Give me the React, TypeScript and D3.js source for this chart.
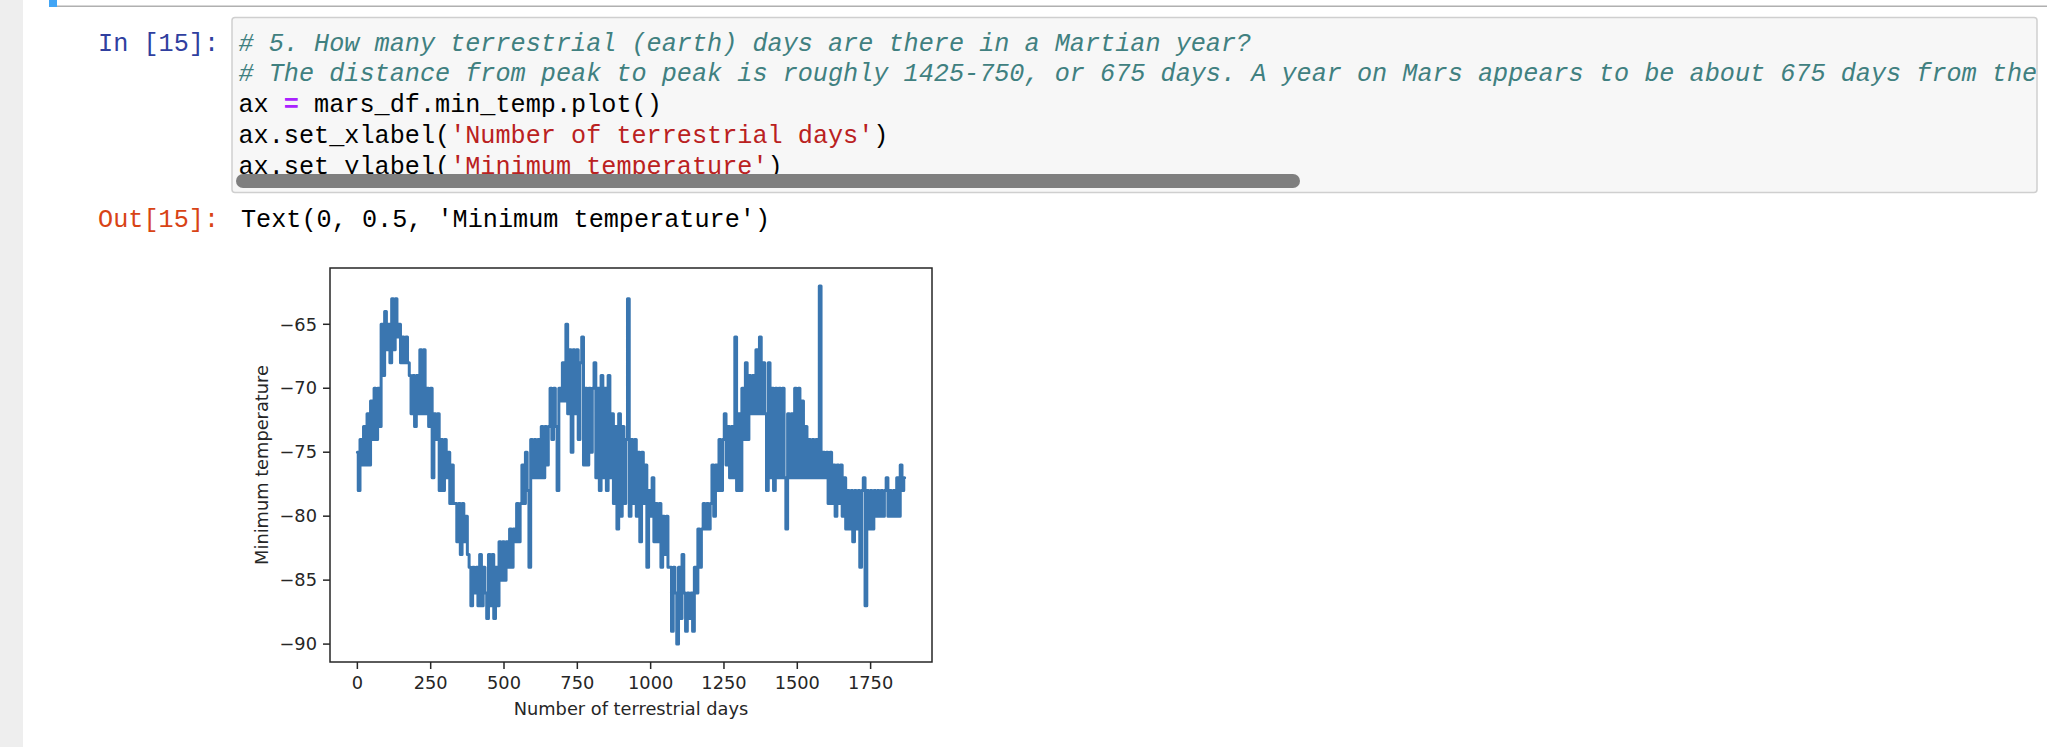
import React from "react";
import * as d3 from "d3";

// ---- data (one value per 6 terrestrial days) ----
const DAY_STEP = 6;
const minTemp: number[] = [
  -75, -78, -74, -76, -73, -76, -72, -76, -71, -74,
  -70, -74, -70, -73, -65, -69, -64, -67, -65, -68,
  -63, -67, -63, -66, -65, -68, -66, -68, -66, -68,
  -69, -72, -69, -73, -69, -72, -67, -72, -67, -72,
  -70, -73, -70, -77, -72, -74, -72, -78, -74, -78,
  -74, -77, -75, -79, -76, -79, -79, -82, -79, -83,
  -79, -82, -80, -83, -84, -87, -84, -86, -84, -87,
  -83, -87, -84, -86, -88, -83, -87, -83, -88, -84,
  -87, -82, -85, -82, -85, -82, -84, -81, -84, -81,
  -82, -79, -82, -79, -76, -79, -75, -78, -84, -74,
  -77, -74, -77, -74, -77, -73, -77, -73, -76, -73,
  -70, -74, -70, -73, -78, -70, -71, -68, -71, -65,
  -72, -67, -75, -67, -72, -67, -74, -68, -66, -76,
  -70, -76, -70, -75, -70, -68, -77, -70, -78, -69,
  -77, -70, -78, -69, -77, -72, -79, -73, -81, -72,
  -80, -73, -79, -74, -63, -80, -74, -79, -74, -80,
  -75, -82, -75, -79, -76, -84, -78, -80, -77, -82,
  -79, -82, -79, -84, -80, -83, -80, -84, -84, -89,
  -84, -86, -90, -84, -88, -83, -86, -89, -86, -88,
  -86, -89, -84, -86, -81, -84, -81, -79, -81, -79,
  -81, -79, -76, -80, -76, -78, -74, -78, -74, -72,
  -76, -73, -77, -73, -77, -66, -78, -72, -78, -70,
  -74, -68, -74, -69, -72, -69, -72, -67, -72, -66,
  -72, -68, -72, -78, -68, -77, -70, -78, -70, -77,
  -70, -77, -70, -77, -81, -72, -77, -72, -77, -70,
  -77, -70, -77, -71, -77, -73, -77, -74, -77, -74,
  -77, -74, -77, -62, -77, -75, -77, -75, -79, -75,
  -79, -76, -80, -76, -79, -76, -80, -77, -81, -78,
  -81, -78, -82, -78, -81, -78, -84, -78, -77, -87,
  -78, -81, -78, -81, -78, -80, -78, -80, -78, -80,
  -78, -77, -80, -78, -80, -78, -80, -77, -80, -76,
  -78, -77,
];
const LAST_DAY = 1866;
const xTicks = [0, 250, 500, 750, 1000, 1250, 1500, 1750];
const yTicks = [-90, -85, -80, -75, -70, -65];
const xLabel = "Number of terrestrial days";
const yLabel = "Minimum temperature";

const inPrompt = "In [15]:";
const outPrompt = "Out[15]:";
const commentLines = [
  "# 5. How many terrestrial (earth) days are there in a Martian year?",
  "# The distance from peak to peak is roughly 1425-750, or 675 days. A year on Mars appears to be about 675 days from the",
];
const outText = "Text(0, 0.5, 'Minimum temperature')";

const W = 2047;
const H = 747;

const MONO = "'Liberation Mono', 'DejaVu Sans Mono', monospace";
const SANS = "'DejaVu Sans', sans-serif";

export default function App() {
  const days = minTemp.map((_, i) => Math.min(i * DAY_STEP, LAST_DAY));
  const xMin = 0, xMax = LAST_DAY;
  const xPad = (xMax - xMin) * 0.05;
  const yMinV = d3.min(minTemp)!;
  const yMaxV = d3.max(minTemp)!;
  const yPad = (yMaxV - yMinV) * 0.05;

  const L = 330, R = 932, T = 268, B = 662;
  const x = d3.scaleLinear().domain([xMin - xPad, xMax + xPad]).range([L, R]);
  const y = d3.scaleLinear().domain([yMinV - yPad, yMaxV + yPad]).range([B, T]);

  const line = d3
    .line<number>()
    .x((_, i) => x(days[i]))
    .y((d) => y(d))
    .curve(d3.curveStep);

  const fs = 17.8;
  const codeFs = 25.2;
  const lh = 30.7;
  const base0 = 50.7;
  const codeX = 238.5;

  const fmt = (v: number) => (v < 0 ? "\u2212" + Math.abs(v) : String(v));

  return (
    <svg
      width={W}
      height={H}
      style={{ position: "absolute", left: 0, top: 0, background: "#fff" }}
    >
      <defs>
        <clipPath id="codeClip">
          <rect x={233} y={18} width={1803} height={173} />
        </clipPath>
        <clipPath id="axClip">
          <rect x={L} y={T} width={R - L} height={B - T} />
        </clipPath>
      </defs>
      {/* page chrome */}
      <rect x={0} y={0} width={23} height={H} fill="#eeeeee" />
      <rect x={49} y={0} width={8} height={7} fill="#42a5f5" />
      <rect x={57} y={5.5} width={W - 57} height={1.5} fill="#b0b0b0" />

      {/* input prompt */}
      <text x={219} y={base0} fontFamily={MONO} fontSize={codeFs} fill="#303f9f" textAnchor="end">
        {inPrompt}
      </text>

      {/* code cell */}
      <rect x={232} y={17.5} width={1805} height={175} rx={3} fill="#f7f7f7" stroke="#cfcfcf" strokeWidth={1.5} />
      <g clipPath="url(#codeClip)" fontFamily={MONO} fontSize={codeFs}>
        {commentLines.map((t, i) => (
          <text key={i} x={codeX} y={base0 + i * lh} fill="#408080" fontStyle="italic" xmlSpace="preserve">
            {t}
          </text>
        ))}
        <text x={codeX} y={base0 + 2 * lh} fill="#000" xmlSpace="preserve">
          ax <tspan fill="#aa22ff" fontWeight="bold">=</tspan> mars_df.min_temp.plot()
        </text>
        <text x={codeX} y={base0 + 3 * lh} fill="#000" xmlSpace="preserve">
          ax.set_xlabel(<tspan fill="#ba2121">'Number of terrestrial days'</tspan>)
        </text>
        <text x={codeX} y={base0 + 4 * lh} fill="#000" xmlSpace="preserve">
          ax.set_ylabel(<tspan fill="#ba2121">'Minimum temperature'</tspan>)
        </text>
        <rect x={236} y={174} width={1064} height={14} rx={7} fill="#7f7f7f" />
      </g>

      {/* output prompt */}
      <text x={219} y={226.7} fontFamily={MONO} fontSize={codeFs} fill="#d84315" textAnchor="end">
        {outPrompt}
      </text>
      <text x={241} y={226.7} fontFamily={MONO} fontSize={codeFs} fill="#000" xmlSpace="preserve">
        {outText}
      </text>

      {/* chart */}
      <g clipPath="url(#axClip)">
        <path
          d={line(minTemp) || ""}
          fill="none"
          stroke="#3a76b0"
          strokeWidth={3}
          strokeLinejoin="round"
          strokeLinecap="round"
        />
      </g>
      <rect x={L} y={T} width={R - L} height={B - T} fill="none" stroke="#262626" strokeWidth={1.5} />

      {xTicks.map((t) => (
        <g key={"x" + t}>
          <line x1={x(t)} x2={x(t)} y1={B} y2={B + 7} stroke="#262626" strokeWidth={1.5} />
          <text x={x(t)} y={688.5} textAnchor="middle" fontFamily={SANS} fontSize={fs} fill="#262626">
            {fmt(t)}
          </text>
        </g>
      ))}
      {yTicks.map((t) => (
        <g key={"y" + t}>
          <line x1={L - 7} x2={L} y1={y(t)} y2={y(t)} stroke="#262626" strokeWidth={1.5} />
          <text x={317} y={y(t)} dy="0.35em" textAnchor="end" fontFamily={SANS} fontSize={fs} fill="#262626">
            {fmt(t)}
          </text>
        </g>
      ))}
      <text x={(L + R) / 2} y={715} textAnchor="middle" fontFamily={SANS} fontSize={fs} fill="#262626">
        {xLabel}
      </text>
      <text
        transform={`translate(268, ${(T + B) / 2}) rotate(-90)`}
        textAnchor="middle"
        fontFamily={SANS}
        fontSize={fs}
        fill="#262626"
      >
        {yLabel}
      </text>
    </svg>
  );
}
